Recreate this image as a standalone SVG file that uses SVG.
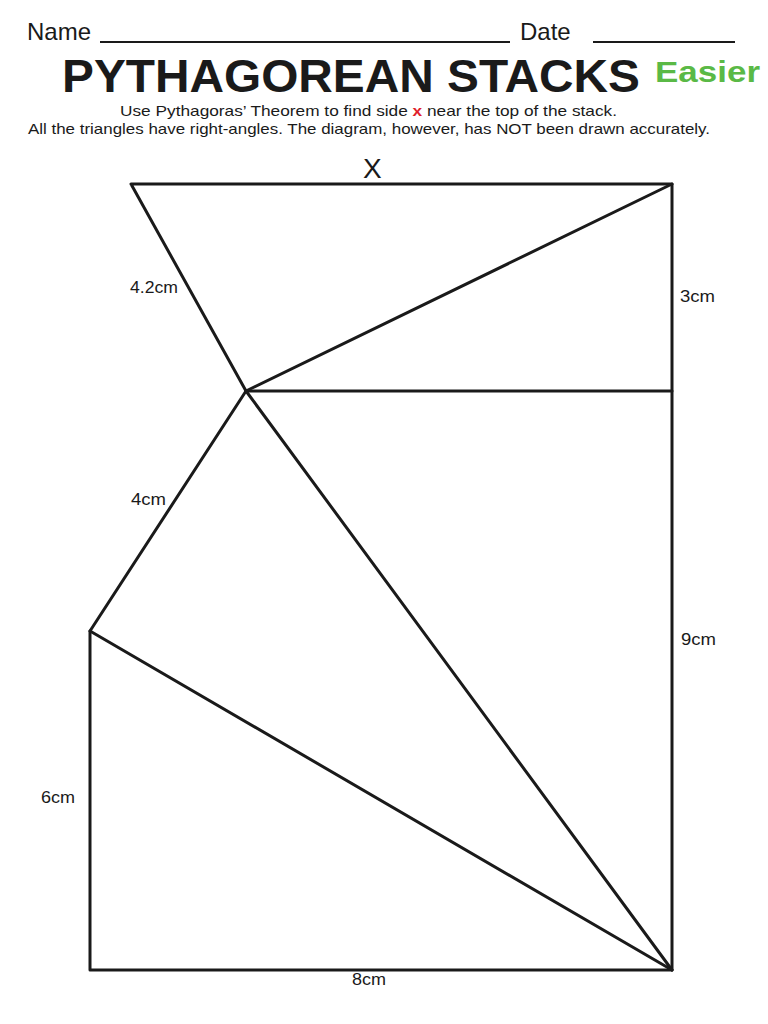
<svg xmlns="http://www.w3.org/2000/svg" width="768" height="1024" viewBox="0 0 768 1024">
<style>
text{font-family:"Liberation Sans",Arial,sans-serif;fill:#1a1a1a}
.hdr{font-size:24px}
.sub{font-size:15px}
.lbl{font-size:16px}
.edge{stroke:#1a1a1a;stroke-width:3;fill:none;stroke-linecap:round;stroke-linejoin:round}
.ul{stroke:#1a1a1a;stroke-width:2}
</style>
<rect width="768" height="1024" fill="#fff"/>
<g id="header">
<text class="hdr" x="27" y="40">Name</text>
<line class="ul" x1="100" y1="42" x2="510" y2="42"/>
<text class="hdr" x="520" y="40">Date</text>
<line class="ul" x1="593" y1="42" x2="735" y2="42"/>
<text x="62" y="92" font-size="46" font-weight="bold" textLength="578" lengthAdjust="spacingAndGlyphs">PYTHAGOREAN STACKS</text>
<text x="655" y="82" font-size="30" font-weight="bold" style="fill:#5ab946" textLength="105" lengthAdjust="spacingAndGlyphs">Easier</text>
<text class="sub" x="120" y="116" textLength="497" lengthAdjust="spacingAndGlyphs">Use Pythagoras’ Theorem to find side <tspan style="fill:#e0202a;font-weight:bold">x</tspan> near the top of the stack.</text>
<text class="sub" x="28" y="134" textLength="682" lengthAdjust="spacingAndGlyphs">All the triangles have right-angles. The diagram, however, has NOT been drawn accurately.</text>
</g>
<g id="connectors">
<polyline class="edge" points="131,184 672,184 672,970 90,970 90,631 246,391 131,184"/>
<line class="edge" x1="246" y1="391" x2="672" y2="184"/>
<line class="edge" x1="246" y1="391" x2="672" y2="391"/>
<line class="edge" x1="246" y1="391" x2="672" y2="970"/>
<line class="edge" x1="90" y1="631" x2="672" y2="970"/>
</g>
<g id="labels">
<text x="363" y="178" font-size="28">X</text>
<text class="lbl" x="130" y="293" textLength="48" lengthAdjust="spacingAndGlyphs">4.2cm</text>
<text class="lbl" x="680" y="302" textLength="35" lengthAdjust="spacingAndGlyphs">3cm</text>
<text class="lbl" x="131" y="505" textLength="35" lengthAdjust="spacingAndGlyphs">4cm</text>
<text class="lbl" x="681" y="645" textLength="35" lengthAdjust="spacingAndGlyphs">9cm</text>
<text class="lbl" x="41" y="803" textLength="34" lengthAdjust="spacingAndGlyphs">6cm</text>
<text class="lbl" x="352" y="985" textLength="34" lengthAdjust="spacingAndGlyphs">8cm</text>
</g>
</svg>
